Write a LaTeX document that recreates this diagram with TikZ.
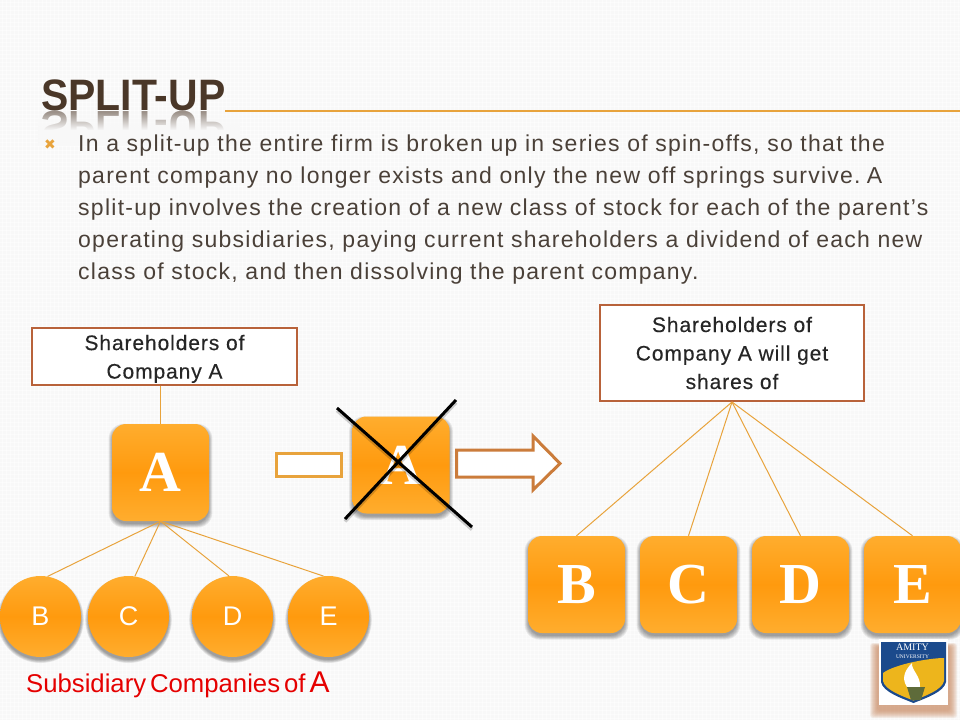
\documentclass[tikz,border=0pt]{standalone}
\usepackage{fontspec}
\setmainfont{Liberation Sans}
\newfontfamily\serifA{Liberation Serif}
\newfontfamily\dejavu{DejaVu Sans}
\newfontfamily\bodyfont[LetterSpace=5.5]{Liberation Sans}
\newfontfamily\labelfont[LetterSpace=4.3,FakeBold=0.25]{Liberation Sans}
\usetikzlibrary{shadows,fadings,calc}
\definecolor{bgc}{HTML}{F8F8F8}
\definecolor{org}{HTML}{FF9A0E}
\definecolor{orgl}{HTML}{FFAD2E}
\definecolor{linec}{HTML}{E8A33C}
\definecolor{brownb}{HTML}{B8623A}
\definecolor{titlec}{HTML}{4A3728}
\definecolor{bodyc}{HTML}{4A4038}
\definecolor{logob}{HTML}{1B4A8C}
\definecolor{logoy}{HTML}{EDB51C}
\definecolor{logocup}{HTML}{5E6B3A}
\definecolor{logoshade}{HTML}{C8865A}
\tikzset{
  x=1pt,y=-1pt,
  softlayer/.style={general shadow={fill=black,opacity=.07,shadow xshift=0pt,shadow yshift=-3pt,shadow scale=#1}},
  softshadow/.style={softlayer=1.07,softlayer=1.055,softlayer=1.04,softlayer=1.025,softlayer=1.01,softlayer=0.995},
  orgfill/.style={top color=orgl,bottom color=orgl,middle color=org,softshadow},
  sqbox/.style={orgfill,rounded corners=14pt,minimum width=97pt,minimum height=97pt,inner sep=0pt,text=white,font=\serifA\bfseries\fontsize{58}{58}\selectfont},
  circ/.style={orgfill,circle,minimum size=81pt,inner sep=0pt,text=white,font=\fontsize{27}{27}\selectfont},
  labelbox/.style={draw=brownb,line width=2pt,fill=white,align=center,inner sep=0pt,font=\labelfont\fontsize{21}{28.5}\selectfont,text=black!85},
  wire/.style={draw=linec,line width=1pt},
  bodyline/.style={anchor=base west,inner sep=0pt,text=bodyc,font=\bodyfont\fontsize{23}{23}\selectfont},
  xline/.style={draw=black,line width=3pt},
  titletext/.style={anchor=base west,inner sep=0pt,xscale=.93,font=\bfseries\fontsize{44}{44}\selectfont},
}
\newcommand{\sqletter}[1]{\raisebox{-2pt}{#1}}
\begin{document}
\begin{tikzpicture}
\useasboundingbox (0,0) rectangle (960,720);
\fill[bgc] (0,0) rectangle (960,720);
\foreach \i in {2,6,...,960} {\draw[white,line width=.8pt,opacity=.5] (\i,0) -- (\i,720);}
\foreach \j in {2,6,...,720} {\draw[white,line width=.8pt,opacity=.5] (0,\j) -- (960,\j);}
% title
\node[titletext,text=titlec!55!white,yscale=-1] (refl) at (41,111) {SPLIT-UP};
\fill[bgc,path fading=north] (38,112) rectangle (240,130);
\fill[bgc] (38,130) rectangle (240,146);
\node[titletext,text=titlec] (title) at (41,110) {SPLIT-UP};
\coordinate (ruleL) at (225,111);
\coordinate (ruleR) at (960,111);
\draw[linec,line width=1.5pt] (ruleL) -- (ruleR);
% bullet and body
\node[anchor=center,inner sep=0pt,text=linec,font=\dejavu\fontsize{14}{14}\selectfont] (bul) at (50,145) {✖};
\node[bodyline] (l1) at (78,151) {In a split-up the entire firm is broken up in series of spin-offs, so that the};
\node[bodyline] (l2) at (78,183) {parent company no longer exists and only the new off springs survive.\hspace{-4pt} A};
\node[bodyline] (l3) at (78,215) {split-up involves the creation of a new class of stock for each of the parent’s};
\node[bodyline] (l4) at (78,247) {operating subsidiaries, paying current shareholders a dividend of each new};
\node[bodyline] (l5) at (78,279) {class of stock, and then dissolving the parent company.};
% label boxes
\node[labelbox,minimum width=265pt,minimum height=57pt] (sl) at (164.5,356.5) {\rule{0pt}{20pt}Shareholders of\\Company A};
\node[labelbox,minimum width=264pt,minimum height=96pt] (sr) at (732,353) {Shareholders of\\Company A will get\\shares of};
% nodes
\node[sqbox] (a) at (160.5,472.5) {\sqletter{A}};
\node[sqbox] (ax) at (401,465) {\sqletter{A}};
\node[sqbox] (rb) at (576.5,584.5) {\sqletter{B}};
\node[sqbox] (rc) at (688.5,584.5) {\sqletter{C}};
\node[sqbox] (rd) at (800.5,584.5) {\sqletter{D}};
\node[sqbox] (re) at (912.5,584.5) {\sqletter{E}};
\node[circ] (cb) at (40.5,616.5) {B};
\node[circ] (cc) at (128.5,616.5) {C};
\node[circ] (cd) at (232.5,616.5) {D};
\node[circ] (ce) at (328.5,616.5) {E};
% connectors
\draw[wire] (a.north) -- (a.north |- sl.south);
\draw[wire] (a.south) -- (cb.80);
\draw[wire] (a.south) -- (cc.81);
\draw[wire] (a.south) -- (cd.95);
\draw[wire] (a.south) -- (ce.97);
\draw[wire] (sr.south) -- (rb.north);
\draw[wire] (sr.south) -- (rc.north);
\draw[wire] (sr.south) -- (rd.north);
\draw[wire] (sr.south) -- (re.north);
% minus bar and arrow
\draw[draw=linec,line width=3pt,fill=white] (276,453.5) rectangle (341,476.5);
\draw[draw=brownb!60!linec,line width=3pt,fill=white,line join=miter] (456.5,450) -- (533,450) -- (533,436) -- (560,463.5) -- (533,490) -- (533,477) -- (456.5,477) -- cycle;
% cross
\coordinate (x1a) at (337,408); \coordinate (x1b) at (472,527);
\coordinate (x2a) at (456,400); \coordinate (x2b) at (345,519);
\draw[black,line width=3.5pt,opacity=.18] ($(x1a)+(0,2.5)$) -- ($(x1b)+(0,2.5)$);
\draw[black,line width=3.5pt,opacity=.18] ($(x2a)+(0,2.5)$) -- ($(x2b)+(0,2.5)$);
\draw[xline] (x1a) -- (x1b);
\draw[xline] (x2a) -- (x2b);
% caption
\node[anchor=base west,inner sep=0pt,text=red!90!black,font=\fontsize{25.7}{25.7}\selectfont] (cap) at (26,692) {\spaceskip=4pt Subsidiary Companies of {\fontsize{30}{30}\selectfont A}};
% logo
\foreach \g in {0,1,...,7} {\fill[logoshade,opacity=.13,rounded corners=3pt] (870+\g,643+\g/2) rectangle (957-\g,718-\g);}
\fill[white] (879,639) rectangle (948,705);
\fill[logob] (881,642) -- (946,642) -- (946,682) .. controls (944,692) and (926,698) .. (913.5,703) .. controls (901,698) and (883,692) .. (881,682) -- cycle;
\fill[logoy] (883,673) .. controls (895,664) and (930,658) .. (944,658) -- (944,681) .. controls (942,690) and (925,696) .. (913.5,700.5) .. controls (902,696) and (885,690) .. (883,681) -- cycle;
\node[inner sep=0pt,text=white,font=\serifA\fontsize{10}{10}\selectfont] (am) at (912.5,647.5) {AMITY};
\node[inner sep=0pt,text=white,font=\serifA\fontsize{5.5}{5.5}\selectfont] (un) at (912.5,656.5) {UNIVERSITY};
\fill[white] (907,687) .. controls (901,678) and (905,670) .. (912,663) .. controls (911,670) and (921,676) .. (920,687) -- cycle;
\fill[logocup] (907,687) -- (925,687) -- (921,700) -- (911,700) -- cycle;
\end{tikzpicture}
\end{document}
